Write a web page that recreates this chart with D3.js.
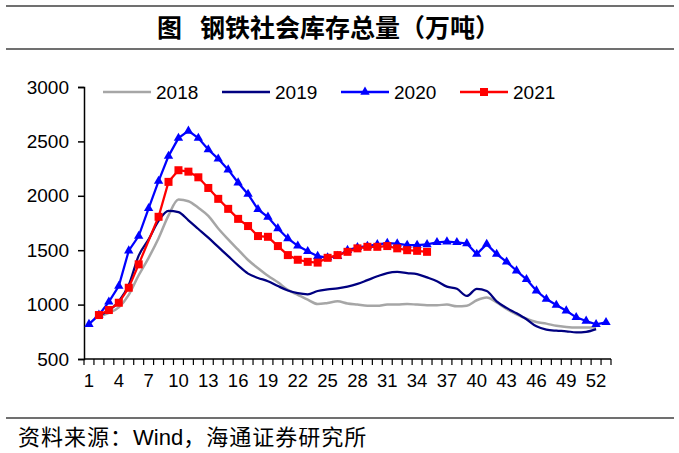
<!DOCTYPE html>
<html>
<head>
<meta charset="utf-8">
<script src="https://cdn.jsdelivr.net/npm/d3@7"></script>
<style>
  body { margin: 0; background: #fff; }
  svg { display: block; }
</style>
</head>
<body>
<svg id="chart" width="679" height="453"></svg>
<script>
const weeks = d3.range(1, 54);
const xLabels = [1, 4, 7, 10, 13, 16, 19, 22, 25, 28, 31, 34, 37, 40, 43, 46, 49, 52];
const yTicks = [500, 1000, 1500, 2000, 2500, 3000];
const seriesNames = ["2018", "2019", "2020", "2021"];

const s2018 = [null, 890, 925, 975, 1090, 1270, 1430, 1610, 1820, 1965,
  1950, 1890, 1815, 1700, 1600, 1505, 1410, 1335, 1265, 1205,
  1135, 1090, 1045, 1005, 1015, 1030, 1010, 1000, 990, 990,
  1000, 1000, 1005, 1000, 995, 995, 1000, 985, 990, 1040,
  1065, 1020, 960, 910, 870, 840, 825, 805, 795, 790,
  790, 790, null];
const s2019 = [null, 900, 945, 1030, 1180, 1450, 1600, 1770, 1862, 1850,
  1775, 1695, 1615, 1530, 1445, 1360, 1285, 1245, 1215, 1170,
  1130, 1105, 1095, 1125, 1140, 1150, 1165, 1190, 1225, 1260,
  1290, 1300, 1290, 1280, 1250, 1215, 1165, 1145, 1080, 1145,
  1125, 1030, 970, 920, 865, 800, 770, 760, 755, 745,
  750, 775, null];
const s2020 = [820, 905, 1025, 1170, 1495, 1630, 1885, 2135, 2365, 2530,
  2596, 2530, 2425, 2340, 2240, 2120, 2015, 1875, 1805, 1700,
  1608, 1540, 1490, 1445, 1432, 1445, 1500, 1526, 1538, 1553,
  1565, 1560, 1547, 1547, 1553, 1572, 1578, 1572, 1562, 1464,
  1556, 1464, 1393, 1311, 1232, 1127, 1051, 996, 944, 883,
  849, 819, 837];
const s2021 = [null, 904, 950, 1017, 1155, 1370, null, 1807, 2128, 2235,
  2222, 2170, 2072, 1972, 1880, 1788, 1722, 1630, 1623, 1538,
  1455, 1412, 1393, 1386, 1430, 1455, 1485, 1517, 1531, 1531,
  1538, 1517, 1500, 1494, 1485];

const svg = d3.select("#chart");
const FONT = "Liberation Sans, Arial, sans-serif";
const CJK = "Noto Sans CJK SC, sans-serif";

const plot = { left: 84, right: 611, top: 87, bottom: 359 };

// header & footer rules
[6, 49, 418].forEach(y => {
  svg.append("line")
    .attr("x1", 6).attr("x2", 674)
    .attr("y1", y).attr("y2", y)
    .attr("stroke", "#404040").attr("stroke-width", 1.5);
});

svg.append("text")
  .attr("x", 157).attr("y", 37)
  .attr("font-family", CJK).attr("font-weight", "bold").attr("font-size", 25)
  .text("图");
svg.append("text")
  .attr("x", 200).attr("y", 37)
  .attr("font-family", CJK).attr("font-weight", "bold").attr("font-size", 25)
  .text("钢铁社会库存总量（万吨）");

const src = svg.append("text")
  .attr("x", 18).attr("y", 445)
  .attr("font-family", CJK)
  .attr("font-size", 22)
  .attr("letter-spacing", 1);
src.append("tspan").text("资料来源：");
src.append("tspan").attr("font-family", FONT).attr("letter-spacing", 0).text("Wind");
src.append("tspan").text("，海通证券研究所");

const x = d3.scaleBand()
  .domain(weeks)
  .range([plot.left, plot.right]);

const y = d3.scaleLinear()
  .domain([500, 3000])
  .range([plot.bottom, plot.top]);

const cx = w => x(w) + x.bandwidth() / 2;

// y axis
const yAxis = d3.axisLeft(y)
  .tickValues(yTicks)
  .tickSize(6)
  .tickPadding(9)
  .tickFormat(d3.format("d"));

const gy = svg.append("g")
  .attr("transform", `translate(${plot.left},0)`)
  .call(yAxis);
gy.select(".domain").attr("stroke", "#000").attr("stroke-width", 1.5);
gy.selectAll(".tick line").attr("stroke", "#000").attr("stroke-width", 1.5);
gy.selectAll("text")
  .attr("font-family", FONT).attr("font-size", 19).attr("fill", "#000");

// x axis: boundary ticks + centered labels
svg.append("line")
  .attr("x1", plot.left).attr("x2", plot.right)
  .attr("y1", plot.bottom).attr("y2", plot.bottom)
  .attr("stroke", "#000").attr("stroke-width", 1.5);

svg.append("g").selectAll("line")
  .data(weeks.concat([54]))
  .enter().append("line")
  .attr("x1", d => d === 54 ? plot.right : x(d))
  .attr("x2", d => d === 54 ? plot.right : x(d))
  .attr("y1", plot.bottom).attr("y2", plot.bottom + 6)
  .attr("stroke", "#000").attr("stroke-width", 1.2);

const xAxis = d3.axisBottom(x)
  .tickValues(xLabels)
  .tickSize(0)
  .tickPadding(15);
const gx = svg.append("g")
  .attr("transform", `translate(0,${plot.bottom})`)
  .call(xAxis);
gx.select(".domain").remove();
gx.selectAll("text")
  .attr("font-family", FONT).attr("font-size", 18.5).attr("fill", "#000");

// series
const toPts = arr => arr.map((v, i) => ({ w: weeks[i], v })).filter(d => d.v != null);

const smooth = d3.line().x(d => cx(d.w)).y(d => y(d.v)).curve(d3.curveMonotoneX);
const straight = d3.line().x(d => cx(d.w)).y(d => y(d.v));

const p2018 = toPts(s2018), p2019 = toPts(s2019), p2020 = toPts(s2020), p2021 = toPts(s2021);

svg.append("path").attr("d", smooth(p2018))
  .attr("fill", "none").attr("stroke", "#A6A6A6").attr("stroke-width", 2.5);
svg.append("path").attr("d", smooth(p2019))
  .attr("fill", "none").attr("stroke", "#000080").attr("stroke-width", 2.25);
svg.append("path").attr("d", straight(p2020))
  .attr("fill", "none").attr("stroke", "#0000FF").attr("stroke-width", 2.25);

const tri = d3.symbol().type(d3.symbolTriangle).size(38);
svg.append("g").selectAll("path")
  .data(p2020).enter().append("path")
  .attr("d", tri)
  .attr("transform", d => `translate(${cx(d.w)},${y(d.v)})`)
  .attr("fill", "#0000FF");

svg.append("path").attr("d", straight(p2021))
  .attr("fill", "none").attr("stroke", "#FF0000").attr("stroke-width", 2.25);
svg.append("g").selectAll("rect")
  .data(p2021).enter().append("rect")
  .attr("x", d => cx(d.w) - 4).attr("y", d => y(d.v) - 4)
  .attr("width", 8).attr("height", 8)
  .attr("fill", "#FF0000");

// legend
const legendItems = [
  { name: seriesNames[0], color: "#A6A6A6", x0: 103, marker: null },
  { name: seriesNames[1], color: "#000080", x0: 222, marker: null },
  { name: seriesNames[2], color: "#0000FF", x0: 341, marker: "tri" },
  { name: seriesNames[3], color: "#FF0000", x0: 460, marker: "sq" }
];
const ly = 92;
const lg = svg.append("g").selectAll("g").data(legendItems).enter().append("g");
lg.append("line")
  .attr("x1", d => d.x0).attr("x2", d => d.x0 + 48)
  .attr("y1", ly).attr("y2", ly)
  .attr("stroke", d => d.color).attr("stroke-width", 2.5);
lg.filter(d => d.marker === "tri").append("path")
  .attr("d", tri)
  .attr("transform", d => `translate(${d.x0 + 24},${ly})`)
  .attr("fill", d => d.color);
lg.filter(d => d.marker === "sq").append("rect")
  .attr("x", d => d.x0 + 20).attr("y", ly - 4)
  .attr("width", 8).attr("height", 8)
  .attr("fill", d => d.color);
lg.append("text")
  .attr("x", d => d.x0 + 53).attr("y", ly + 7)
  .attr("font-family", FONT).attr("font-size", 19)
  .text(d => d.name);
</script>
</body>
</html>
